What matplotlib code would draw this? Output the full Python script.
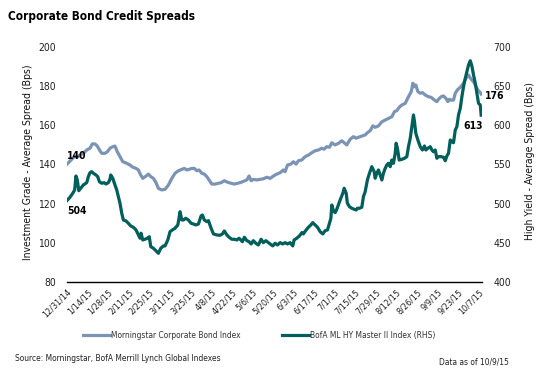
# Corporate Bond Credit Spreads - IG vs HY spreads, 12/31/14 to 10/8/15
import matplotlib
matplotlib.use("Agg")
import matplotlib.pyplot as plt

plt.rcParams['font.family'] = ['DejaVu Sans']
plt.rcParams['font.stretch'] = 'condensed'

# days since 12/31/14
ig_days = [0, 3.2, 5.4, 7.0, 8.8, 11.1, 13.4, 15.6, 17.2, 19.0, 20.6, 22.4, 23.6, 25.8, 27.4, 29.2,
           31.1, 32.6, 34.2, 36.0, 37.9, 40.6, 42.8, 44.7, 46.9, 48.5, 50.1, 51.5, 53.7, 55.3, 56.9,
           58.7, 60.5, 62.1, 64.4, 66.6, 68.9, 71.2, 73.4, 75.7, 78.0, 79.7, 81.4, 82.9, 84.8, 86.5,
           88.2, 89.7, 91.6, 93.3, 95.0, 96.5, 98.4, 100.6, 102.9, 104.7, 106.9, 109.2, 111.5, 113.7,
           116.0, 118.3, 120.5, 122.2, 123.7, 125.1, 126.6, 129.0, 131.2, 133.4, 135.8, 138.0, 140.2,
           142.6, 144.8, 147.0, 148.2, 149.8, 152.1, 153.8, 155.7, 157.2, 159.5, 161.8, 164.0, 166.3,
           168.6, 170.8, 173.1, 174.7, 176.5, 178.3, 179.9, 181.0, 182.2, 184.4, 186.7, 188.3, 190.1,
           192.4, 194.6, 196.5, 198.0, 200.3, 202.6, 204.1, 206.0, 207.8, 209.4, 211.6, 213.9, 216.2,
           218.4, 220.7, 222.5, 224.1, 225.7, 227.5, 229.8, 232.0, 233.9, 235.0, 235.9, 237.0, 238.4,
           240.0, 241.5, 243.4, 245.6, 247.4, 249.7, 251.3, 252.4, 254.2, 255.8, 257.4, 258.8, 259.7,
           261.0, 262.6, 263.8, 265.6, 267.2, 269.4, 271.0, 272.8, 274.6, 276.2, 277.4, 279.2, 280.8,
           281.4]
ig_vals = [140.2, 142.6, 144.3, 143.7, 144.8, 145.7, 147.4, 148.3, 150.5, 150.5, 149.4, 147.0, 145.7,
           145.7, 146.5, 148.3, 149.1, 149.4, 146.5, 144.0, 141.4, 140.6, 139.7, 138.6, 138.0, 137.2,
           134.6, 132.9, 134.1, 135.1, 133.8, 132.9, 130.7, 127.8, 127.0, 127.3, 129.5, 132.9, 135.5,
           136.8, 137.5, 138.0, 137.2, 137.5, 138.0, 138.0, 136.8, 137.2, 135.5, 135.1, 133.8, 132.1,
           130.0, 130.0, 130.4, 130.7, 131.7, 130.9, 130.4, 130.0, 130.4, 130.9, 131.6, 132.1, 134.1,
           131.7, 132.4, 132.1, 132.4, 132.7, 133.5, 132.9, 134.1, 135.1, 135.8, 137.2, 136.3, 139.7,
           140.2, 141.4, 140.2, 141.9, 142.3, 144.0, 144.8, 146.0, 147.0, 147.4, 148.3, 147.8, 149.1,
           148.8, 151.1, 150.5, 150.0, 150.8, 152.1, 151.1, 150.0, 152.9, 154.2, 153.4, 153.9, 154.5,
           155.1, 156.2, 157.3, 159.7, 159.0, 159.7, 161.8, 162.7, 163.6, 164.4, 167.0, 167.5, 169.2,
           170.4, 171.2, 174.6, 177.2, 181.5, 179.7, 180.6, 177.2, 176.4, 176.7, 175.5, 174.6, 174.3,
           172.9, 172.1, 173.3, 174.6, 175.0, 173.8, 172.1, 173.3, 172.9, 172.9, 176.4, 178.4, 179.4,
           181.5, 184.0, 185.7, 183.5, 182.3, 180.6, 178.0, 176.7, 176.0]

hy_days = [0, 2.0, 3.9, 5.2, 6.1, 7.0, 8.0, 9.3, 11.1, 13.4, 14.5, 15.6, 16.8, 17.9, 19.7, 20.9, 22.0,
           23.6, 25.2, 26.5, 28.1, 29.2, 29.7, 31.1, 32.2, 33.8, 34.9, 36.0, 37.2, 38.3, 40.1, 41.7,
           43.3, 45.1, 46.9, 48.5, 49.6, 50.3, 51.5, 53.0, 54.6, 55.9, 56.9, 58.7, 60.5, 62.1, 63.7,
           65.5, 66.6, 68.5, 70.0, 71.6, 73.4, 75.3, 76.1, 76.8, 78.0, 79.1, 80.7, 82.5, 84.3, 85.9,
           87.5, 89.3, 91.1, 92.0, 93.3, 95.0, 96.1, 97.9, 99.5, 101.8, 104.0, 105.6, 106.9, 108.6,
           110.1, 112.0, 113.7, 115.4, 116.9, 119.2, 120.5, 122.2, 123.7, 125.1, 126.6, 128.3, 130.0,
           131.9, 133.4, 135.1, 136.8, 138.0, 139.8, 141.4, 143.0, 144.8, 146.6, 148.2, 149.8, 151.6,
           153.4, 154.3, 156.1, 157.9, 159.6, 160.6, 162.5, 164.0, 165.7, 167.0, 168.6, 170.2, 172.0,
           173.8, 175.4, 177.0, 178.3, 179.3, 179.9, 181.0, 182.2, 183.3, 185.6, 187.4, 188.3, 189.7,
           190.5, 191.9, 193.5, 195.1, 196.5, 197.3, 198.7, 200.3, 201.4, 202.6, 204.1, 205.5, 207.1,
           208.7, 209.4, 210.5, 211.6, 212.8, 213.9, 215.0, 216.2, 217.3, 218.4, 219.6, 220.7, 221.8,
           223.0, 223.6, 224.5, 225.7, 227.5, 229.3, 230.9, 232.0, 233.2, 234.3, 235.4, 236.1, 237.0,
           238.4, 240.0, 241.5, 242.9, 243.8, 245.2, 246.8, 247.9, 249.0, 250.2, 251.3, 252.4, 254.2,
           255.8, 257.0, 258.1, 259.2, 260.4, 261.5, 262.6, 263.8, 264.9, 266.0, 267.2, 268.3, 269.4,
           270.6, 271.7, 272.8, 274.0, 275.1, 276.2, 277.4, 278.5, 279.6, 280.8, 281.4]
hy_vals = [504, 508.1, 513.2, 517.4, 535.3, 530.2, 516.5, 519.6, 523.8, 526.8, 534.4, 539.5, 540.8,
           538.8, 536.6, 534.4, 528.0, 526.0, 526.8, 525.1, 526.8, 531.1, 536.6, 532.4, 526.0, 517.4,
           508.9, 500.5, 487.7, 479.1, 477.9, 474.9, 471.5, 469.8, 466.4, 460.0, 455.8, 462.2, 453.6,
           454.5, 455.8, 457.8, 445.1, 443.0, 439.6, 436.6, 443.0, 446.0, 446.0, 453.6, 464.2, 466.4,
           468.6, 472.8, 481.3, 489.7, 479.1, 479.1, 481.3, 479.1, 474.9, 474.0, 472.8, 474.0, 484.3,
           485.5, 479.1, 477.0, 478.3, 468.6, 461.3, 460.0, 459.6, 461.3, 465.1, 460.0, 457.1, 454.5,
           454.5, 453.6, 455.8, 451.4, 457.1, 452.7, 451.4, 448.5, 452.7, 449.4, 447.2, 454.5, 450.2,
           452.7, 450.2, 448.5, 446.0, 449.4, 447.2, 450.2, 448.5, 450.2, 448.5, 450.2, 446.0, 453.6,
           455.8, 458.7, 463.0, 461.3, 466.4, 469.8, 472.8, 475.7, 472.8, 469.8, 464.2, 461.3, 465.5,
           466.4, 474.9, 481.3, 498.3, 491.0, 488.5, 492.8, 504.7, 513.2, 519.6, 513.2, 500.5, 496.1,
           494.1, 492.8, 491.9, 494.1, 494.1, 495.4, 508.9, 515.3, 530.2, 538.8, 547.2, 540.8, 532.4,
           538.8, 543.0, 536.6, 530.2, 538.8, 545.1, 549.4, 551.5, 547.2, 555.7, 551.5, 564.3, 577.1,
           570.7, 555.7, 556.6, 557.9, 560.0, 572.7, 583.4, 598.3, 613.2, 604.6, 589.8, 581.3, 572.7,
           568.5, 573.6, 568.5, 570.7, 572.7, 568.5, 566.3, 568.5, 557.9, 560.0, 560.0, 559.2, 554.8,
           560.9, 564.3, 581.3, 579.1, 577.8, 594.0, 598.3, 613.2, 621.7, 636.6, 649.3, 660.0, 668.5,
           677.0, 682.5, 675.7, 664.3, 653.7, 640.9, 628.1, 626.0, 613.0]

tick_days = list(range(0, 281, 14))
tick_labels = ["12/31/14", "1/14/15", "1/28/15", "2/11/15", "2/25/15", "3/11/15", "3/25/15",
               "4/8/15", "4/22/15", "5/6/15", "5/20/15", "6/3/15", "6/17/15", "7/1/15", "7/15/15",
               "7/29/15", "8/12/15", "8/26/15", "9/9/15", "9/23/15", "10/7/15"]

ig_color = "#7b93b5"
hy_color = "#005e5b"

fig = plt.figure(figsize=(5.56, 3.81), dpi=100)
ax = fig.add_axes([0.1205, 0.26, 0.7465, 0.6166])
ax2 = ax.twinx()

ax.plot(ig_days, ig_vals, color=ig_color, lw=2.3, label="Morningstar Corporate Bond Index")
ax2.plot(hy_days, hy_vals, color=hy_color, lw=2.3, label="BofA ML HY Master II Index (RHS)")

ax.set_xlim(0, 282)
ax.set_ylim(80, 200)
ax2.set_ylim(400, 700)
ax.set_yticks(range(80, 201, 20))
ax2.set_yticks(range(400, 701, 50))
ax.set_xticks(tick_days)
ax.set_xticklabels(tick_labels, rotation=45, ha="right", va="top", rotation_mode="anchor")

for a in (ax, ax2):
    for s in a.spines.values():
        s.set_visible(False)
ax.spines["bottom"].set_visible(True)
ax.spines["bottom"].set_linewidth(1.0)
ax.spines["bottom"].set_color("black")

ax.tick_params(axis="x", length=0, pad=4, labelsize=6.5, labelcolor="#222222")
ax.tick_params(axis="y", length=0, pad=8, labelsize=7.5, labelcolor="#222222")
ax2.tick_params(axis="y", length=0, pad=8, labelsize=7.5, labelcolor="#222222")

ax.set_ylabel("Investment Grade - Average Spread (Bps)", fontsize=7.5, color="#111111")
ax.yaxis.set_label_coords(-0.082, 0.51)
ax2.set_ylabel("High Yield - Average Spread (Bps)", fontsize=7.5, color="#111111", rotation=90)
ax2.yaxis.set_label_coords(1.104, 0.515)

# end-point labels
ax.text(0, 142, "140", fontsize=7.5, fontweight="bold", ha="left", va="bottom")
ax2.text(0, 497, "504", fontsize=7.5, fontweight="bold", ha="left", va="top")
ax.text(284, 175.2, "176", fontsize=7.5, fontweight="bold", ha="left", va="center")
ax2.text(276, 606, "613", fontsize=7.5, fontweight="bold", ha="center", va="top")

fig.text(0.014, 0.958, "Corporate Bond Credit Spreads", fontsize=8.5, fontweight="bold",
         ha="left", va="center")

h1, l1 = ax.get_legend_handles_labels()
h2, l2 = ax2.get_legend_handles_labels()
fig.legend(h1 + h2, l1 + l2, loc="center", bbox_to_anchor=(0.466, 0.12), ncol=2, frameon=False,
           fontsize=6, handlelength=3.2, handletextpad=0.15, columnspacing=5.0, labelcolor="#333333")

fig.text(0.027, 0.06, "Source: Morningstar, BofA Merrill Lynch Global Indexes", fontsize=6,
         ha="left", va="center", color="#222222")
fig.text(0.915, 0.05, "Data as of 10/9/15", fontsize=6, ha="right", va="center", color="#222222")

fig.savefig("out.png", dpi=100)
